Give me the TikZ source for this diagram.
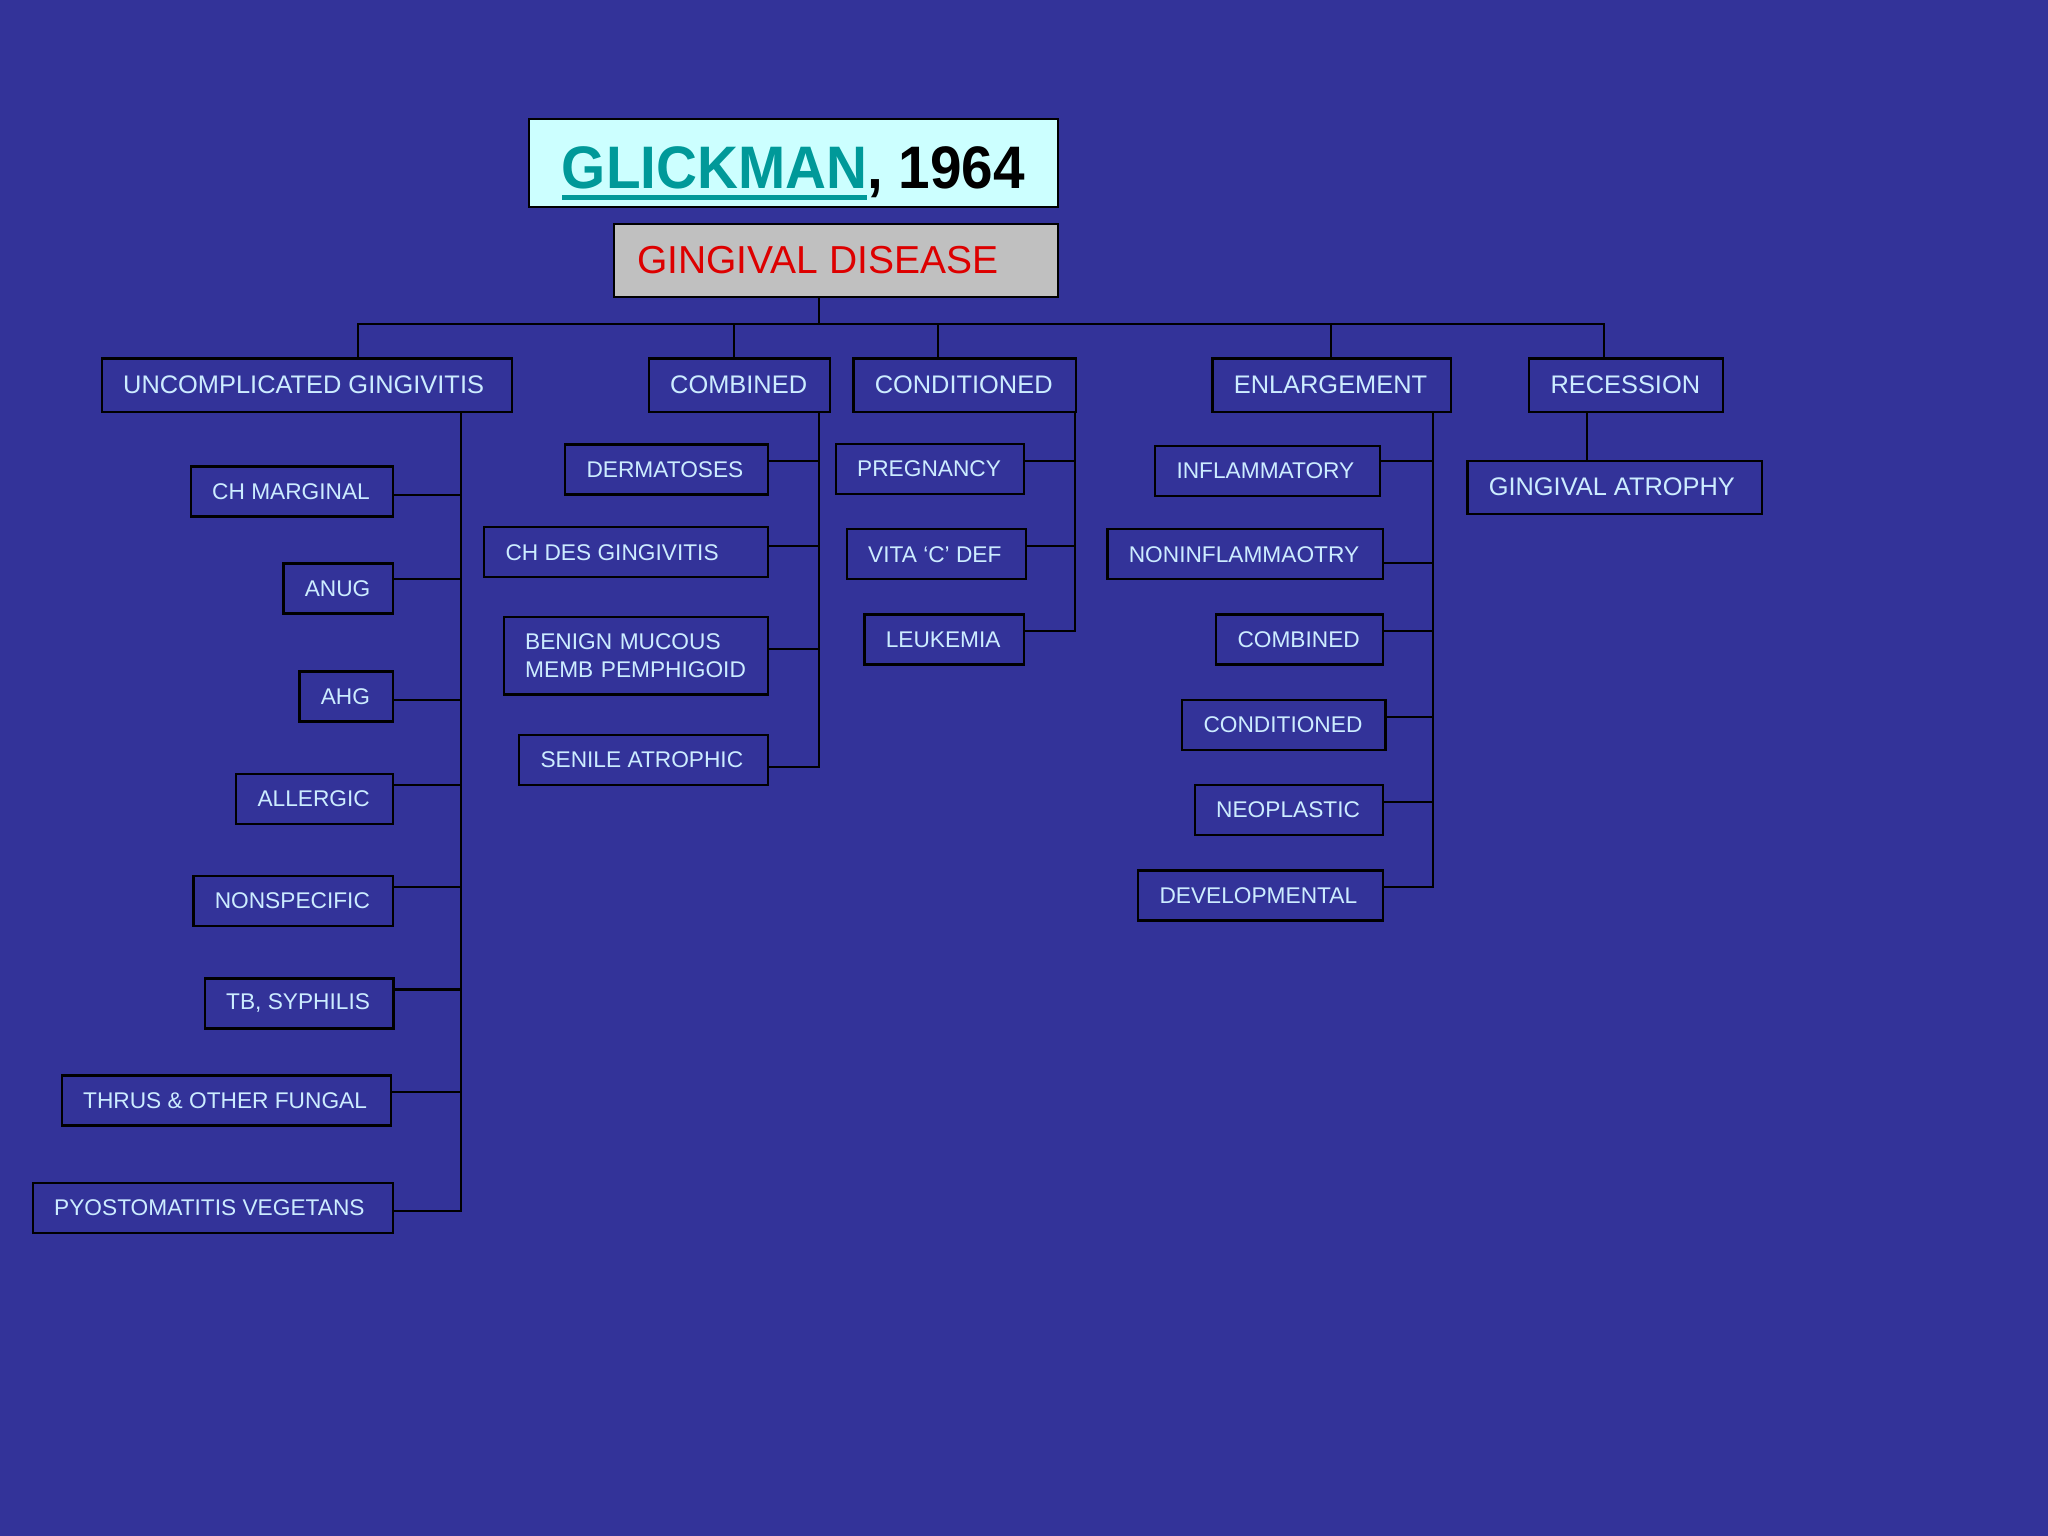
\documentclass[tikz,border=0pt]{standalone}
\usepackage{fontspec}
\setmainfont{Liberation Sans}
\newfontfamily\titlefont[FakeStretch=0.945]{Liberation Sans}
\definecolor{bgc}{HTML}{333399}
\definecolor{txtc}{HTML}{CCECFF}
\definecolor{titlefill}{HTML}{CCFFFF}
\definecolor{tealc}{HTML}{009999}
\definecolor{grayfill}{HTML}{C0C0C0}
\definecolor{redc}{HTML}{DD0000}
\newlength\ulwd
\newcommand\thickul[1]{\settowidth\ulwd{#1}\rlap{\raisebox{-12pt}[0pt][0pt]{\rule{\ulwd}{5.5pt}}}#1}
\newcommand\lbox[2]{\makebox[#1pt][l]{#2}}
\begin{document}
\begin{tikzpicture}[x=1pt,y=-1pt,
  box/.style={draw=black,line width=2.4pt,fill=bgc,text=txtc,inner xsep=21.5pt,inner ysep=0pt,anchor=center},
  lone/.style={box,font=\fontsize{25.4}{30}\selectfont,minimum height=53.4pt},
  ltwo/.style={box,font=\fontsize{22.7}{27.3}\selectfont,minimum height=50pt},
  conn/.style={draw=black,line width=2.2pt,line cap=rect}]
\fill[bgc] (0,0) rectangle (2048,1536);
\useasboundingbox (0,0) rectangle (2048,1536);

% header
\node[box,fill=titlefill,text=black,minimum width=529pt,minimum height=88pt,inner xsep=0pt,text height=50pt,text depth=0pt] (title) at (793.5,163)
  {\titlefont\bfseries\fontsize{60}{68}\selectfont\textcolor{tealc}{\thickul{GLICKMAN}}, 1964};
\node[box,fill=grayfill,text=redc,minimum height=73pt,inner xsep=23pt,font=\fontsize{39}{46}\selectfont] (gd) at (836,260.5)
  {\lbox{398}{GINGIVAL DISEASE}};

% level 1
\node[lone] (unc)  at (306.7,385)  {\lbox{367}{UNCOMPLICATED GINGIVITIS}};
\node[lone] (comb) at (739.35,385) {\lbox{138.3}{COMBINED}};
\node[lone] (cond) at (964.65,385) {\lbox{179.7}{CONDITIONED}};
\node[lone] (enl)  at (1331.5,385) {\lbox{195.4}{ENLARGEMENT}};
\node[lone] (rec)  at (1625.85,385) {\lbox{150.7}{RECESSION}};
\node[lone,minimum height=53pt] (atro) at (1614.65,487.2) {\lbox{251.7}{GINGIVAL ATROPHY}};

% uncomplicated children
\node[ltwo] (chm)      at (291.7,491.5)  {\lbox{159}{CH MARGINAL}};
\node[ltwo] (anug)     at (338,588.5)    {\lbox{66.4}{ANUG}};
\node[ltwo] (ahg)      at (346,696.5)    {\lbox{50.4}{AHG}};
\node[ltwo] (allergic) at (314.35,799)   {\lbox{113.7}{ALLERGIC}};
\node[ltwo] (nonspec)  at (293,901)      {\lbox{156.4}{NONSPECIFIC}};
\node[ltwo] (tb)       at (299,1003.5)   {\lbox{145.6}{TB, SYPHILIS}};
\node[ltwo] (thrus)    at (226.35,1100.5){\lbox{286.3}{THRUS \& OTHER FUNGAL}};
\node[ltwo] (pyo)      at (212.7,1208)   {\lbox{317}{PYOSTOMATITIS VEGETANS}};

% combined children
\node[ltwo] (derm)   at (666.5,469.5) {\lbox{160}{DERMATOSES}};
\node[ltwo] (chdes)  at (626,552.2)   {\lbox{241}{CH DES GINGIVITIS}};
\node[ltwo,minimum height=77.7pt,text width=221.3pt,align=left] (benign) at (635.85,655.8) {BENIGN MUCOUS\\MEMB PEMPHIGOID};
\node[ltwo] (senile) at (643.5,759.7) {\lbox{206}{SENILE ATROPHIC}};

% conditioned children
\node[ltwo] (preg) at (929.85,468.9) {\lbox{145.3}{PREGNANCY}};
\node[ltwo] (vita) at (936.35,554.2) {\lbox{136.3}{VITA ‘C’ DEF}};
\node[ltwo] (leuk) at (944.15,639.3) {\lbox{116.7}{LEUKEMIA}};

% enlargement children
\node[ltwo] (infl)   at (1267.5,470.7)  {\lbox{182}{INFLAMMATORY}};
\node[ltwo] (noninf) at (1245,554.2)    {\lbox{232.4}{NONINFLAMMAOTRY}};
\node[ltwo] (comb2)  at (1299.35,639.3) {\lbox{123.7}{COMBINED}};
\node[ltwo] (cond2)  at (1283.65,724.9) {\lbox{160.3}{CONDITIONED}};
\node[ltwo] (neo)    at (1288.7,810)    {\lbox{145}{NEOPLASTIC}};
\node[ltwo] (dev)    at (1260.35,895.3) {\lbox{201.7}{DEVELOPMENTAL}};

% top connectors
\coordinate (gx) at (819,324);
\draw[conn] (gd.south -| gx) -- (gx);
\coordinate (busL) at (358.3,324);
\coordinate (busR) at (1604,324);
\draw[conn] (busL |- unc.north) -- (busL) -- (busR) -- (busR |- rec.north);
\coordinate (bcomb) at (734,324);
\draw[conn] (bcomb) -- (bcomb |- comb.north);
\coordinate (bcond) at (938.3,324);
\draw[conn] (bcond) -- (bcond |- cond.north);
\coordinate (benl) at (1331,324);
\draw[conn] (benl) -- (benl |- enl.north);
\coordinate (rx) at (1587.3,0);
\draw[conn] (rec.south -| rx) -- (atro.north -| rx);

% spines
\coordinate (su) at (460.7,1210.7);
\draw[conn] (unc.south -| su) -- (su);
\foreach \n/\y in {chm/494.6,anug/579.3,ahg/700.2,allergic/784.9,nonspec/887,tb/989.5,thrus/1092,pyo/1210.7}{
  \coordinate (s-\n) at (460.7,\y);
  \draw[conn] (s-\n) -- (s-\n -| \n.east);
}
\coordinate (sc) at (819,767.3);
\draw[conn] (comb.south -| sc) -- (sc);
\foreach \n/\y in {derm/461,chdes/546.3,benign/648.7,senile/767.3}{
  \coordinate (s-\n) at (819,\y);
  \draw[conn] (s-\n) -- (s-\n -| \n.east);
}
\coordinate (sd) at (1075,631);
\draw[conn] (cond.south -| sd) -- (sd);
\foreach \n/\y in {preg/460.7,vita/546,leuk/631}{
  \coordinate (s-\n) at (1075,\y);
  \draw[conn] (s-\n) -- (s-\n -| \n.east);
}
\coordinate (se) at (1433.3,886.7);
\draw[conn] (enl.south -| se) -- (se);
\foreach \n/\y in {infl/460.7,noninf/563.3,comb2/631,cond2/716.7,neo/801.7,dev/886.7}{
  \coordinate (s-\n) at (1433.3,\y);
  \draw[conn] (s-\n) -- (s-\n -| \n.east);
}
\end{tikzpicture}
\end{document}
